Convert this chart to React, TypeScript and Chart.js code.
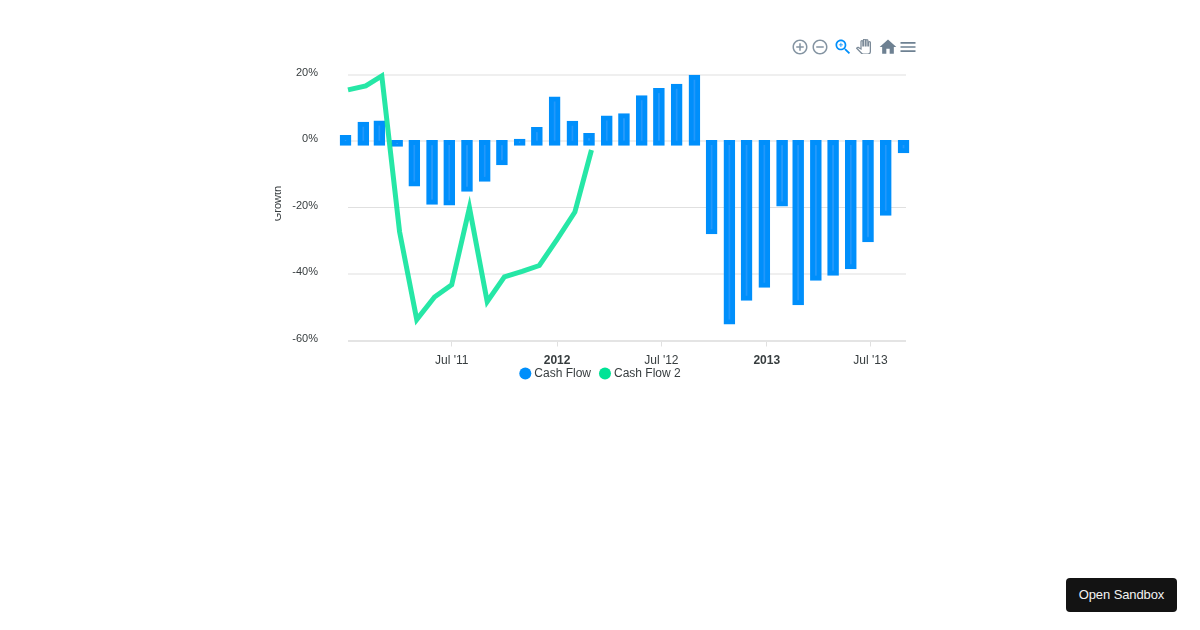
import Chart from "chart.js/auto";
import { useEffect, useRef } from "react";

const FONT = '"Liberation Sans", Arial, sans-serif';
const TEXT = "#373d3f";
const GRID = "#e0e0e0";
const ICON = "#6e8192";

const months = [
  "2011-01-01", "2011-02-01", "2011-03-01", "2011-04-01", "2011-05-01", "2011-06-01",
  "2011-07-01", "2011-08-01", "2011-09-01", "2011-10-01", "2011-11-01", "2011-12-01",
  "2012-01-01", "2012-02-01", "2012-03-01", "2012-04-01", "2012-05-01", "2012-06-01",
  "2012-07-01", "2012-08-01", "2012-09-01", "2012-10-01", "2012-11-01", "2012-12-01",
  "2013-01-01", "2013-02-01", "2013-03-01", "2013-04-01", "2013-05-01", "2013-06-01",
  "2013-07-01", "2013-08-01", "2013-09-01",
];

const cashFlow = [
  1.8, 5.8, 6.2, -1.5, -13.5, -19, -19.2, -15.1, -12.1, -7.1, 0.7, 4.2, 13.4, 6.1, 2.4,
  7.7, 8.4, 13.8, 16, 17.3, 20, -27.9, -55.1, -47.9, -44, -19.5, -49.3, -41.9, -40.4,
  -38.4, -30.3, -22.3, -3.5,
];

const cashFlow2 = [
  15.5, 16.7, 19.7, -27.2, -53.7, -46.9, -43.2, -20, -48.3, -40.8, -39.2, -37.4, -29.5,
  -21.3, -2.6,
];

const tickDates = ["2011-07-01", "2012-01-01", "2012-07-01", "2013-01-01", "2013-07-01"];
const tickLabels = ["Jul '11", "2012", "Jul '12", "2013", "Jul '13"];
const yearLabels = ["2012", "2013"];

const time = (d: string) => new Date(d + "T00:00:00Z").getTime();
const DAY = 86400000;

// the bars sit a little left of the line points, and start a bit off zero
const BAR_SHIFT = 4.3 * DAY;
const POS_BASE = -1.2;
const NEG_BASE = 0.3;

// "Growth" is off-centre and cut by the canvas edge in the original
const axisTitle = {
  id: "axisTitle",
  afterDraw(chart: Chart) {
    const ctx = chart.ctx;
    ctx.save();
    ctx.translate(6, 173.5);
    ctx.rotate(-Math.PI / 2);
    ctx.font = `11px ${FONT}`;
    ctx.fillStyle = TEXT;
    ctx.textAlign = "center";
    ctx.textBaseline = "alphabetic";
    ctx.fillText("Growth", 0, 0);
    ctx.restore();
  },
};

// legend overlaps the bottom of the x axis box
const legendUp = {
  id: "legendUp",
  afterLayout(chart: any) {
    chart.legend.top -= 9.5;
  },
};

const icons = [
  {
    x: 799.5, size: 18, color: ICON,
    d: "M13 7h-2v4H7v2h4v4h2v-4h4v-2h-4V7zm-1-5C6.48 2 2 6.48 2 12s4.48 10 10 10 10-4.48 10-10S17.52 2 12 2zm0 18c-4.41 0-8-3.59-8-8s3.59-8 8-8 8 3.59 8 8-3.59 8-8 8z",
  },
  {
    x: 819.5, size: 18, color: ICON,
    d: "M7 11v2h10v-2H7zm5-9C6.48 2 2 6.48 2 12s4.48 10 10 10 10-4.48 10-10S17.52 2 12 2zm0 18c-4.41 0-8-3.59-8-8s3.59-8 8-8 8 3.59 8 8-3.59 8-8 8z",
  },
  {
    x: 842.5, size: 20, color: "#008ffb",
    d: "M15.5 14h-.79l-.28-.27C15.41 12.59 16 11.11 16 9.5 16 5.91 13.09 3 9.5 3S3 5.91 3 9.5 5.91 16 9.5 16c1.61 0 3.09-.59 4.23-1.57l.27.28v.79l5 4.99L20.49 19l-4.99-5zm-6 0C7.01 14 5 11.99 5 9.5S7.01 5 9.5 5 14 7.01 14 9.5 11.99 14 9.5 14zM12 10h-2v2H9v-2H7V9h2V7h1v2h2v1z",
  },
  {
    x: 887.5, size: 20, color: ICON,
    d: "M10 20v-6h4v6h5v-8h3L12 3 2 12h3v8z",
  },
  {
    x: 907.5, size: 20, color: ICON,
    d: "M3 18h18v-2H3v2zm0-5h18v-2H3v2zm0-7v2h18V6H3z",
  },
];

const HAND =
  "M23 5.5V20c0 2.2-1.8 4-4 4h-7.3c-1.08 0-2.1-.43-2.85-1.19L1 14.83s1.26-1.23 1.3-1.25c.22-.19.49-.29.79-.29.22 0 .42.06.6.16.04.01 4.31 2.46 4.31 2.46V4c0-.83.67-1.5 1.5-1.5S11 3.17 11 4v7h1V1.5c0-.83.67-1.5 1.5-1.5S15 .67 15 1.5V11h1V2.5c0-.83.67-1.5 1.5-1.5s1.5.67 1.5 1.5V11h1V5.5c0-.83.67-1.5 1.5-1.5s1.5.67 1.5 1.5z";

export default function App() {
  const canvasRef = useRef<HTMLCanvasElement>(null);

  useEffect(() => {
    if (!canvasRef.current) return;
    const min = time(months[0]);
    const max = time(months[months.length - 1]);

    const chart = new Chart(canvasRef.current, {
      type: "line",
      data: {
        datasets: [
          {
            type: "bar",
            label: "Cash Flow",
            order: 2,
            xAxisID: "xBars",
            clip: false,
            grouped: false,
            data: cashFlow.map((v, i) => ({
              x: time(months[i]),
              y: [v > 0 ? POS_BASE : NEG_BASE, v],
            })),
            barThickness: 11,
            backgroundColor: "#2298fb",
            borderColor: "#008ffb",
            borderWidth: 5,
            borderSkipped: false,
          },
          {
            type: "line",
            label: "Cash Flow 2",
            order: 1,
            xAxisID: "x",
            clip: false,
            data: cashFlow2.map((v, i) => ({ x: time(months[i]), y: v })),
            borderColor: "rgba(0, 227, 150, 0.85)",
            backgroundColor: "#00e396",
            borderWidth: 5,
            borderJoinStyle: "miter",
            tension: 0,
            pointRadius: 0,
          },
        ],
      } as any,
      options: {
        animation: false,
        responsive: false,
        layout: { padding: { top: 45 } },
        plugins: {
          tooltip: { enabled: false },
          legend: {
            position: "bottom",
            labels: {
              usePointStyle: true,
              boxWidth: 6,
              boxHeight: 8.5,
              padding: 11,
              font: { family: FONT, size: 12 },
              generateLabels: (c: Chart) =>
                c.data.datasets.map((ds: any, i) => ({
                  text: ds.label,
                  fillStyle: i === 0 ? "#008ffb" : "#00e396",
                  strokeStyle: "transparent",
                  lineWidth: 0,
                  pointStyle: "circle",
                  fontColor: TEXT,
                  datasetIndex: i,
                })),
            },
          },
        },
        scales: {
          x: {
            type: "linear",
            min,
            max,
            offset: false,
            grid: { offset: false, drawOnChartArea: false, color: GRID, tickLength: 6 },
            border: { display: false },
            afterFit: (s: any) => {
              s.height = 25.5;
            },
            afterBuildTicks: (s: any) => {
              s.ticks = tickDates.map((d) => ({ value: time(d) }));
            },
            ticks: {
              autoSkip: false,
              maxRotation: 0,
              padding: 7,
              color: TEXT,
              font: (ctx: any) => ({
                family: FONT,
                size: 12,
                weight: yearLabels.includes(ctx.tick?.label) ? "bold" : "normal",
              }),
              callback: (v: any) => tickLabels[tickDates.findIndex((d) => time(d) === v)],
            },
          },
          xBars: {
            type: "linear",
            display: false,
            offset: false,
            min: min + BAR_SHIFT,
            max: max + BAR_SHIFT,
          },
          y: {
            min: -60,
            max: 20,
            grid: {
              drawTicks: false,
              color: (ctx: any) =>
                ctx.tick.value === -60 ? "#e4e4e4" : ctx.tick.value === -20 ? GRID : "#efefef",
              lineWidth: (ctx: any) => (ctx.tick.value === -20 ? 1 : 2),
            },
            border: { display: false },
            afterFit: (s: any) => {
              s.width = 73;
            },
            ticks: {
              stepSize: 20,
              padding: 30,
              labelOffset: -2,
              color: TEXT,
              font: { family: FONT, size: 11 },
              callback: (v: any) => `${v}%`,
            },
          },
          spacer: {
            position: "right",
            grid: { display: false },
            border: { display: false },
            ticks: { display: false },
            afterFit: (s: any) => {
              s.width = 22;
            },
          },
        },
      } as any,
      plugins: [axisTitle, legendUp],
    });

    return () => chart.destroy();
  }, []);

  return (
    <div style={{ position: "relative", width: 1200, height: 630, margin: -8, fontFamily: FONT }}>
      <canvas
        ref={canvasRef}
        width={653}
        height={369}
        style={{ position: "absolute", left: 275, top: 30, width: 653, height: 369 }}
      />
      {icons.map((ic) => (
        <svg
          key={ic.x}
          viewBox="0 0 24 24"
          width={ic.size}
          height={ic.size}
          style={{ position: "absolute", left: ic.x - ic.size / 2, top: 46.5 - ic.size / 2 }}
        >
          <path d={ic.d} fill={ic.color} fillOpacity={ic.size === 18 ? 0.85 : 1} />
        </svg>
      ))}
      <svg
        viewBox="0 0 24 24"
        width={15}
        height={15}
        style={{ position: "absolute", left: 856, top: 39 }}
      >
        <path d={HAND} fill="#fff" stroke="#7b8a98" strokeWidth={2} />
      </svg>
      <div
        style={{
          position: "absolute",
          left: 1066,
          top: 578,
          width: 111,
          height: 34,
          background: "#131313",
          borderRadius: 4,
          color: "#f2f2f2",
          fontSize: 13,
          letterSpacing: -0.1,
          lineHeight: "34px",
          textAlign: "center",
        }}
      >
        Open Sandbox
      </div>
    </div>
  );
}
